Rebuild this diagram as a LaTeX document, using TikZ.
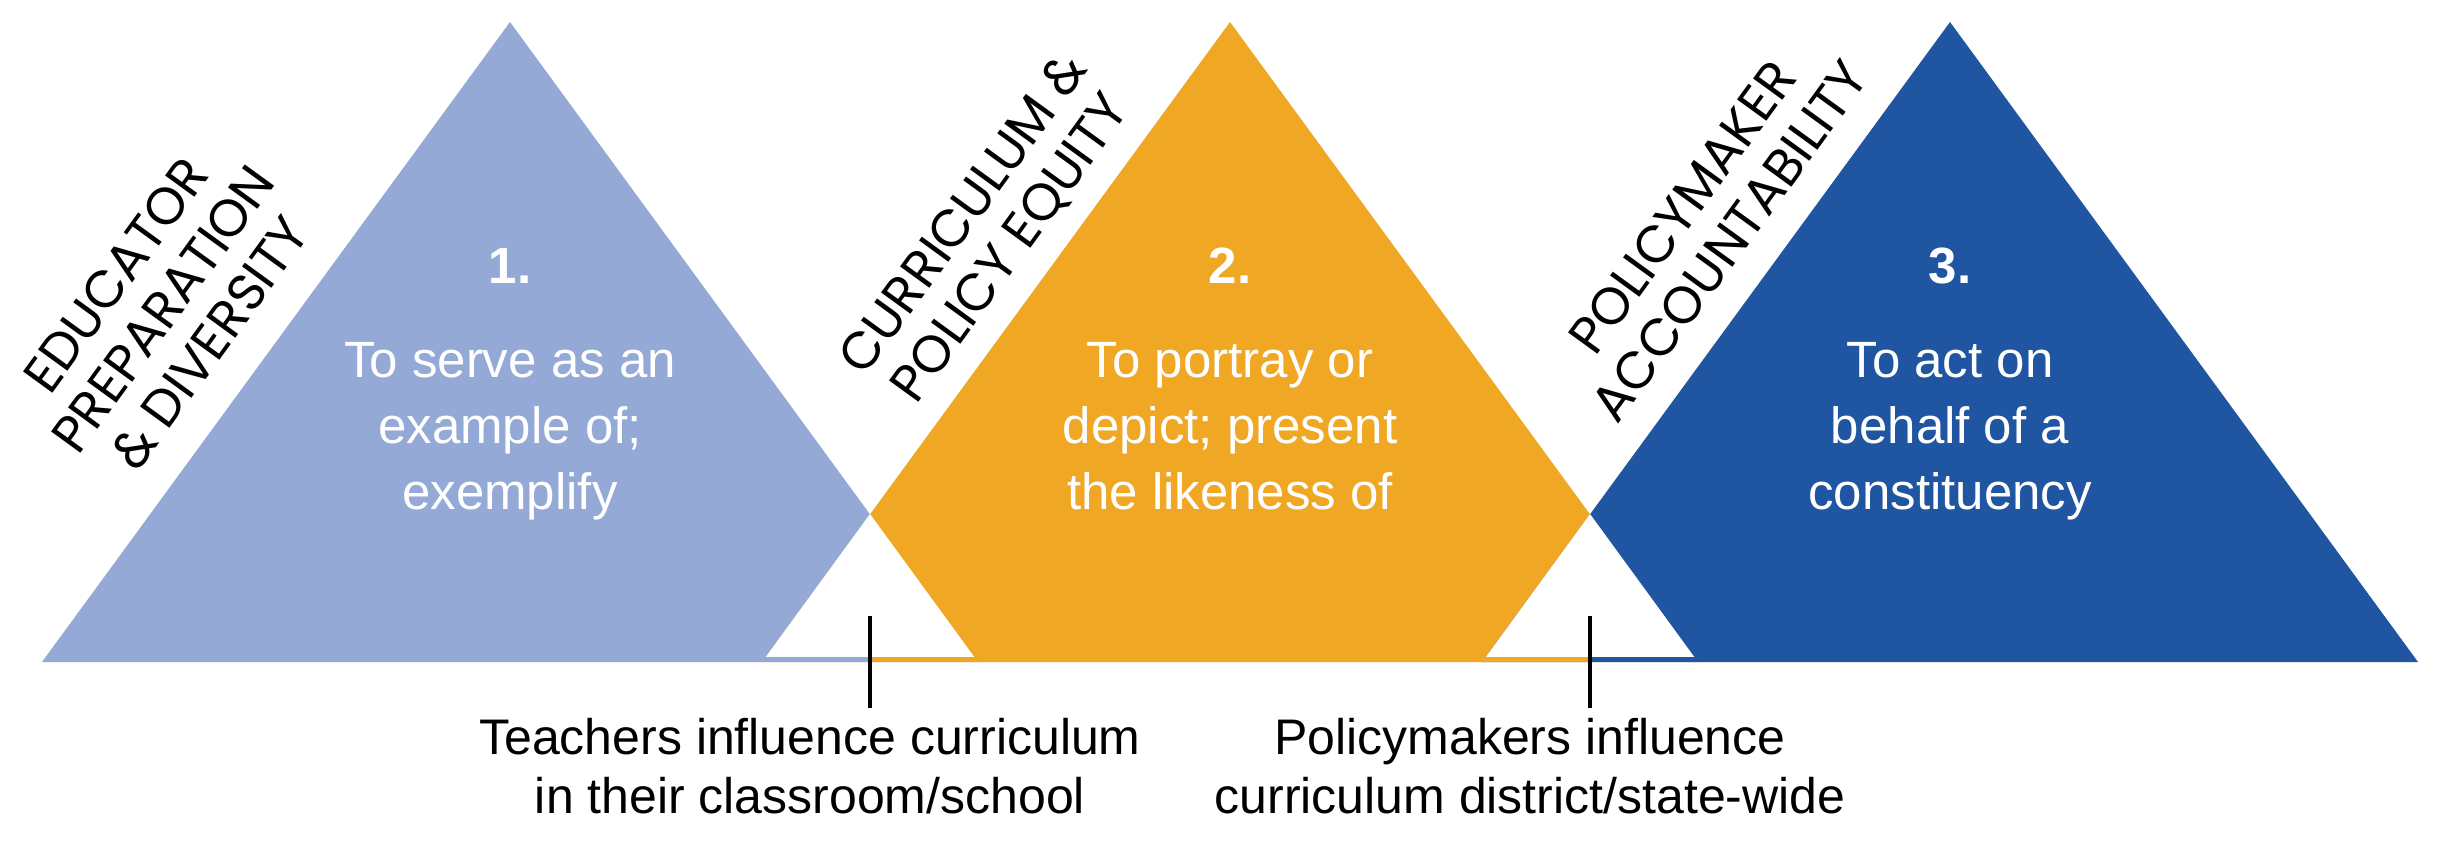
\documentclass[tikz,border=0pt]{standalone}
\usepackage{fontspec}
\setmainfont{Liberation Sans}
\newfontfamily\themefont{Poppins}
\usepackage{xcolor}
\usepackage{tikz}
\usetikzlibrary{calc}

\definecolor{paleblue}{HTML}{94A9D6}
\definecolor{amber}{HTML}{F0A723}
\definecolor{navy}{HTML}{2055A1}

\tikzset{
    goal/.style={text=white, align=center, inner sep=0pt, anchor=north,
        font=\fontsize{15.3}{19.8}\selectfont},
    num/.style={text=white, inner sep=0pt, anchor=base,
        font=\bfseries\fontsize{15.3}{18}\selectfont},
    theme/.style={rotate=54, align=center, inner sep=0pt,
        font=\themefont\fontsize{15.6}{17.4}\selectfont},
    note/.style={align=center, inner sep=0pt, anchor=north,
        font=\fontsize{15}{17.7}\selectfont},
    tick/.style={line width=1.35pt}
}

\begin{document}
\begin{tikzpicture}[x=0.3pt, y=-0.3pt]
    \useasboundingbox (0, 0) rectangle (2457, 843);

    \fill[paleblue] (42, 662) -- (510, 22) -- (978, 662) -- cycle;
    \fill[amber] (762, 662) -- (1230, 22) -- (1698, 662) -- cycle;
    \fill[navy] (1482, 662) -- (1950, 22) -- (2418, 662) -- cycle;

    %%%

    \fill[white] (870, 514) -- (765.7, 657) -- (974.3, 657) -- cycle;
    \fill[white] (1590, 514) -- (1485.7, 657) -- (1694.3, 657) -- cycle;

    \fill[paleblue] (762, 657) rectangle (870, 662);
    \fill[amber] (870, 657) rectangle (978, 662);
    \fill[amber] (1482, 657) rectangle (1590, 662);
    \fill[navy] (1590, 657) rectangle (1698, 662);

    %%%

    \node[num] (num1) at (510, 283) {1.};
    \node[goal] (goal1) at (510, 342) {To serve as an\\ example of;\\ exemplify};
    \node[theme] (theme1) at (163, 309) {EDUCATOR\\ PREPARATION\\ \& DIVERSITY};

    \node[num] (num2) at (1230, 283) {2.};
    \node[goal] (goal2) at (1230, 342) {To portray or\\ depict; present\\ the likeness of};
    \node[theme] (theme2) at (988, 232) {CURRICULUM \&\\ POLICY EQUITY};

    \node[num] (num3) at (1950, 283) {3.};
    \node[goal] (goal3) at (1950, 342) {To act on\\ behalf of a\\ constituency};
    \node[theme] (theme3) at (1706, 224) {POLICYMAKER\\ ACCOUNTABILITY};

    %%%

    \coordinate (tick1top) at (870, 616);
    \coordinate (tick1bot) at (870, 708);
    \coordinate (tick2top) at (1590, 616);
    \coordinate (tick2bot) at (1590, 708);
    \draw[tick] (tick1top) -- (tick1bot);
    \draw[tick] (tick2top) -- (tick2bot);

    \node[note] (teachers) at (810, 718) {Teachers influence curriculum\\ in their classroom/school};
    \node[note] (policymakers) at (1530, 718) {Policymakers influence\\ curriculum district/state-wide};
\end{tikzpicture}
\end{document}
